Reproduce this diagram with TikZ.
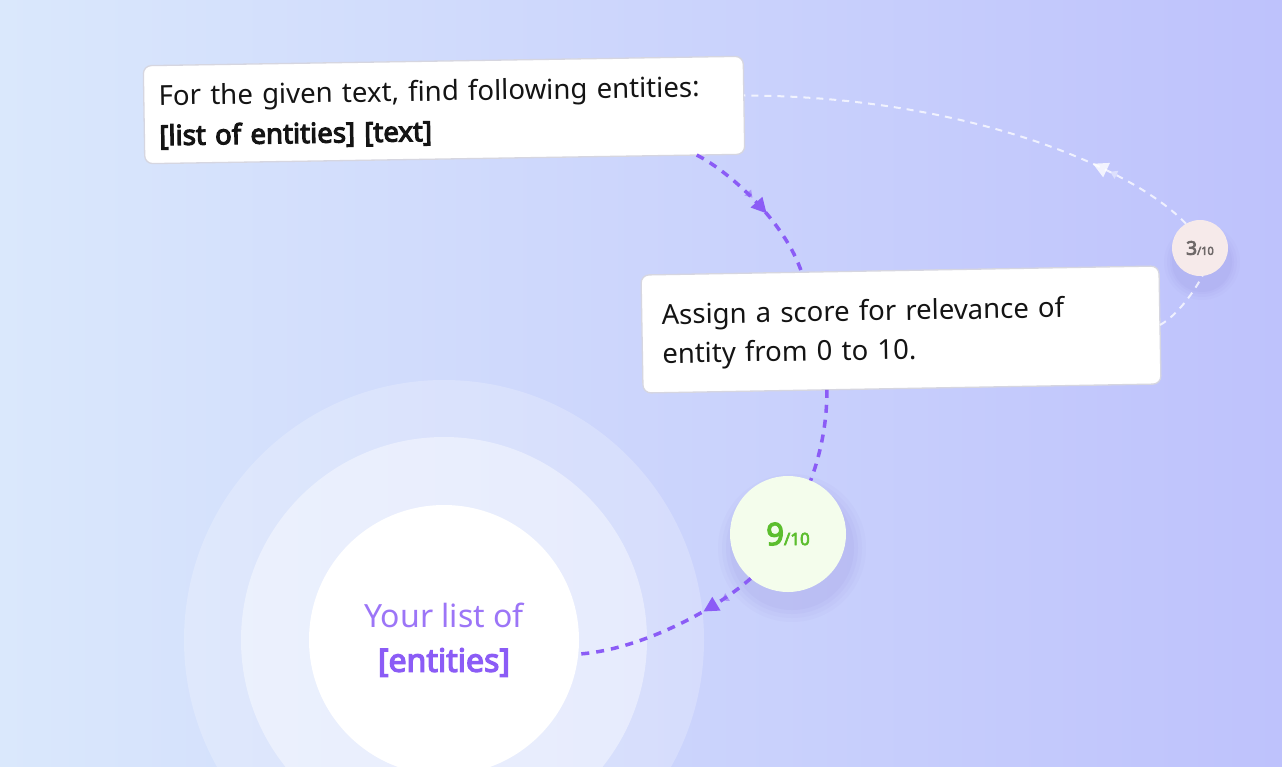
\documentclass[tikz,border=0pt]{standalone}
\usepackage{fontspec}
\setmainfont{Noto Sans}[BoldFont={Noto Sans}, BoldFeatures={FakeBold=4}]
\usetikzlibrary{calc,decorations.markings}
\definecolor{bgL}{RGB}{218,232,252}
\definecolor{bgR}{RGB}{190,194,252}
\definecolor{pur}{RGB}{139,92,246}
\definecolor{grn}{RGB}{92,190,46}
\definecolor{palegrn}{RGB}{244,253,236}
\definecolor{palepink}{RGB}{246,234,234}
\definecolor{gry}{RGB}{110,104,104}
\definecolor{boxline}{RGB}{214,214,224}
\definecolor{shd}{RGB}{140,130,215}
\tikzset{
  box/.style={draw=boxline, line width=1.3pt, fill=white, rounded corners=8pt,
    align=left, inner ysep=0pt, outer sep=0pt, text=black!92},
  pline/.style={draw=pur, line width=3.5pt, dash pattern=on 8pt off 7pt},
  wline/.style={draw=white, draw opacity=0.75, line width=2pt, dash pattern=on 7pt off 6pt},
  parrow/.style={postaction={decorate}, decoration={markings,
    mark=at position #1 with {
      \fill[pur,opacity=0.5] (-13pt,0pt) -- (-20pt,4.5pt) -- (-20pt,-4.5pt) -- cycle;
      \fill[pur] (8pt,0pt) -- (-7pt,8pt) -- (-7pt,-8pt) -- cycle;}}},
  warrow/.style={postaction={decorate}, decoration={markings,
    mark=at position #1 with {
      \fill[white,opacity=0.45] (-11pt,0pt) -- (-18pt,4.5pt) -- (-18pt,-4.5pt) -- cycle;
      \fill[white,opacity=0.8] (8pt,0pt) -- (-7pt,8pt) -- (-7pt,-8pt) -- cycle;}}},
  scorecirc/.style={circle, inner sep=0pt, outer sep=0pt},
}
\begin{document}
\begin{tikzpicture}[x=1pt,y=-1pt]
\useasboundingbox (0,0) rectangle (1282,766);
\clip (0,0) rectangle (1282,766);
\shade[left color=bgL, right color=bgR] (0,0) rectangle (1282,766);
% concentric rings
\fill[white, opacity=0.22] (444,640) circle (260pt);
\fill[white, opacity=0.42] (444,640) circle (203pt);
% soft shadows
\foreach \r/\o in {74/0.04,70/0.05,66/0.06,62/0.07}
  \fill[shd, opacity=\o] (792,548) circle (\r pt);
\foreach \r/\o in {38/0.04,35/0.05,32/0.06,30/0.07}
  \fill[shd, opacity=\o] (1202,262) circle (\r pt);
% nodes
\node[scorecirc, fill=white, minimum size=270pt, align=center,
  font={\fontsize{32}{44}\selectfont}] (list) at (444,640)
  {\textcolor{pur!85}{Your list of}\\
   \textcolor{pur}{\bfseries [entities]}};
\node[box, rotate=0.9, minimum width=600pt, minimum height=98pt, text width=570pt,
  inner xsep=15pt, font={\fontsize{27.6}{40}\selectfont}] (b1) at (444,110)
  {\rule{0pt}{26pt}For the given text, find following entities:\\
   \textbf{[list of entities] [text]}};
\node[box, rotate=1, minimum width=518pt, minimum height=118pt, text width=478pt,
  inner xsep=20pt, font={\fontsize{27.5}{39}\selectfont}] (b2) at (901,329.5)
  {\rule{0pt}{27pt}Assign a score for relevance of\\
   entity from 0 to 10.};
\node[scorecirc, fill=palegrn, minimum size=116pt] (s9) at (788,534)
  {\textcolor{grn}{\bfseries\fontsize{31}{31}\selectfont 9\fontsize{17}{17}\selectfont/10}};
\node[scorecirc, fill=palepink, minimum size=56pt] (s3) at (1200,248)
  {\textcolor{gry}{\bfseries\fontsize{19}{19}\selectfont 3\fontsize{11}{11}\selectfont/10}};
% connectors
\draw[pline, parrow=0.52] ($(b1.south west)!0.92!(b1.south east)$)
  .. controls (730,172) and (785,222) .. ($(b2.north west)!0.31!(b2.north east)$);
\draw[pline] ($(b2.south west)!0.355!(b2.south east)$)
  .. controls (827,425) and (820,455) .. (s9.67);
\draw[pline, parrow=0.26] (s9.-130)
  .. controls (715,610) and (640,650) .. (list.-6);
\draw[wline] (b2.east) .. controls (1178,315) and (1195,290) .. (s3.-85);
\draw[wline, warrow=0.22] (s3.120)
  .. controls (1130,165) and (960,96) .. ($(b1.north east)!0.4!(b1.south east)$);
\end{tikzpicture}
\end{document}
